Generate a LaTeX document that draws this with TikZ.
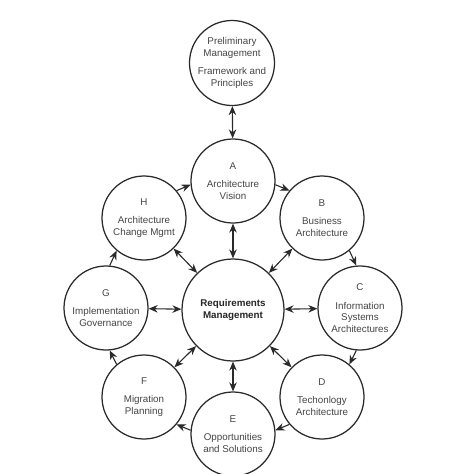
\documentclass[tikz,border=0pt]{standalone}
\usepackage{fontspec}
\setmainfont{Liberation Sans}
\usetikzlibrary{arrows.meta}
\definecolor{txt}{HTML}{454545}
\definecolor{ln}{HTML}{2A2A2A}
\begin{document}
\begin{tikzpicture}[x=1pt,y=-1pt,
  phase/.style={circle,draw=ln,line width=1.25pt,inner sep=0pt,minimum size=84pt,
    align=center,font=\fontsize{9.8}{11.6}\selectfont,text=txt},
  core/.style={phase,minimum size=102pt,font=\fontsize{9.8}{12}\selectfont\bfseries,text=black!85},
  one/.style={line width=1.1pt,draw=ln,-{Stealth[length=9pt,width=7.5pt]}},
  two/.style={line width=1.1pt,draw=ln,{Stealth[length=9pt,width=7.5pt]}-{Stealth[length=9pt,width=7.5pt]}}]
\useasboundingbox (0,0) rectangle (474,474);
\fill[white] (0,0) rectangle (474,474);
\node[phase,minimum size=82pt] (P) at (232,63) {Preliminary\\Management\\[7pt]Framework and\\Principles};
\node[phase] (A) at (233,181) {A\\[7pt]Architecture\\Vision};
\node[phase] (B) at (322,218) {B\\[7pt]Business\\Architecture};
\node[phase] (C) at (360,308) {C\\[7pt]Information\\Systems\\Architectures};
\node[phase] (D) at (322,397) {D\\[7pt]Techonlogy\\Architecture};
\node[phase] (E) at (233,434) {E\\[7pt]Opportunities\\and Solutions};
\node[phase] (F) at (144,397) {F\\[7pt]Migration\\Planning};
\node[phase] (G) at (106,308) {G\\[7pt]Implementation\\Governance};
\node[phase] (H) at (144,218) {H\\[7pt]Architecture\\Change Mgmt};
\node[core] (R) at (233,310) {Requirements\\Management};
\draw[two] (P) -- (A);
\foreach \n in {A,B,C,D,E,F,G,H} \draw[two] (\n) -- (R);
\draw[one] (A.-5) -- (B.140);
\draw[one] (B.-50) -- (C.95);
\draw[one] (C.-95) -- (D.50);
\draw[one] (D.-140) -- (E.5);
\draw[one] (E.175) -- (F.-40);
\draw[one] (F.130) -- (G.-85);
\draw[one] (G.85) -- (H.-130);
\draw[one] (H.40) -- (A.185);
\end{tikzpicture}
\end{document}
